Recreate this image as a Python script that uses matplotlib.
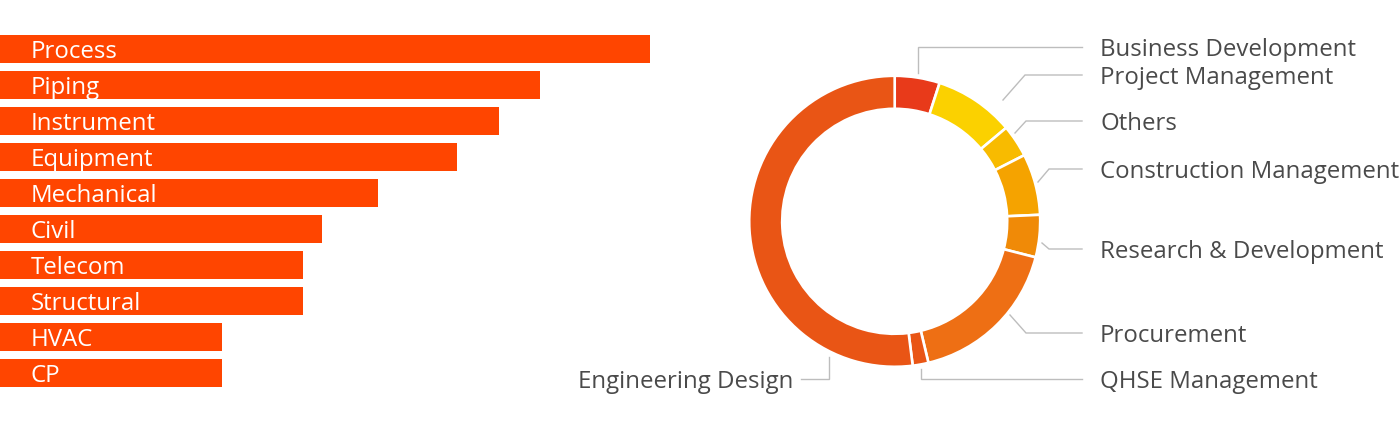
import matplotlib
matplotlib.use("Agg")
import matplotlib.pyplot as plt

# ---- data ----
bar_categories = ["Process", "Piping", "Instrument", "Equipment", "Mechanical",
                  "Civil", "Telecom", "Structural", "HVAC", "CP"]
bar_values = [650, 540, 499, 457, 378, 322, 303, 303, 222, 222]

pie_labels = ["Business Development", "Project Management", "Others",
              "Construction Management", "Research & Development",
              "Procurement", "QHSE Management", "Engineering Design"]
pie_values = [5.0, 8.9, 3.6, 6.8, 4.7, 17.3, 1.75, 52.0]
pie_colors = ["#E83A1A", "#FBD100", "#F8BB00", "#F5A300", "#F08A07",
              "#EE6F14", "#E95515", "#E95515"]

# ---- layout (pixel coordinates, y measured from top) ----
W, H = 1400, 425
FONT = "Open Sans"
FS = 17.3
TXT = "#4A4A4A"
LINE = "#BDBDBD"
BAR_COLOR = "#FF4500"

fig = plt.figure(figsize=(W / 100, H / 100), dpi=100)

# bar chart axes: data units = pixels
axb = fig.add_axes([0, 0, 700 / W, 1])
axb.set_xlim(0, 700)
axb.set_ylim(H, 0)
axb.axis("off")
bar_y = [49 + 36 * i for i in range(len(bar_categories))]
axb.barh(bar_y, bar_values, height=28, left=0, color=BAR_COLOR, linewidth=0)
for y, name in zip(bar_y, bar_categories):
    axb.text(31, y + 8.7, name, color="white", fontsize=FS, family=FONT,
             va="baseline", ha="left")

# donut axes over whole figure, y up
axp = fig.add_axes([0, 0, 1, 1])
axp.set_xlim(0, W)
axp.set_ylim(0, H)
axp.axis("off")
cx, cy, R = 894.7, H - 221.3, 145.5
axp.pie(pie_values, colors=pie_colors, startangle=90, counterclock=False,
        center=(cx, cy), radius=R, normalize=True,
        wedgeprops=dict(width=33, edgecolor="white", linewidth=1.9))
axp.set_xlim(0, W)
axp.set_ylim(0, H)
axp.set_aspect("auto")

leaders = [
    [(918, 73), (918, 47), (1082, 47)],
    [(1003, 100), (1025, 75), (1082, 75)],
    [(1015, 133), (1026, 121), (1082, 121)],
    [(1038, 182), (1049, 169), (1082, 169)],
    [(1042, 243), (1049, 249), (1082, 249)],
    [(1010, 315), (1026, 333), (1082, 333)],
    [(921, 369), (921, 379), (1082, 379)],
    [(829, 357), (829, 379), (801, 379)],
]
label_pos = [(1100, 47, "left"), (1100, 75, "left"), (1100, 121, "left"),
             (1100, 169, "left"), (1100, 249, "left"), (1100, 333, "left"),
             (1100, 379, "left"), (793, 379, "right")]

for pts, (lx, ly, ha), name in zip(leaders, label_pos, pie_labels):
    xs = [p[0] for p in pts]
    ys = [H - p[1] for p in pts]
    axp.plot(xs, ys, color=LINE, linewidth=1.0, solid_joinstyle="miter")
    axp.text(lx, H - (ly + 8.5), name, color=TXT, fontsize=FS, family=FONT,
             ha=ha, va="baseline")

fig.savefig("out.png", dpi=100)
